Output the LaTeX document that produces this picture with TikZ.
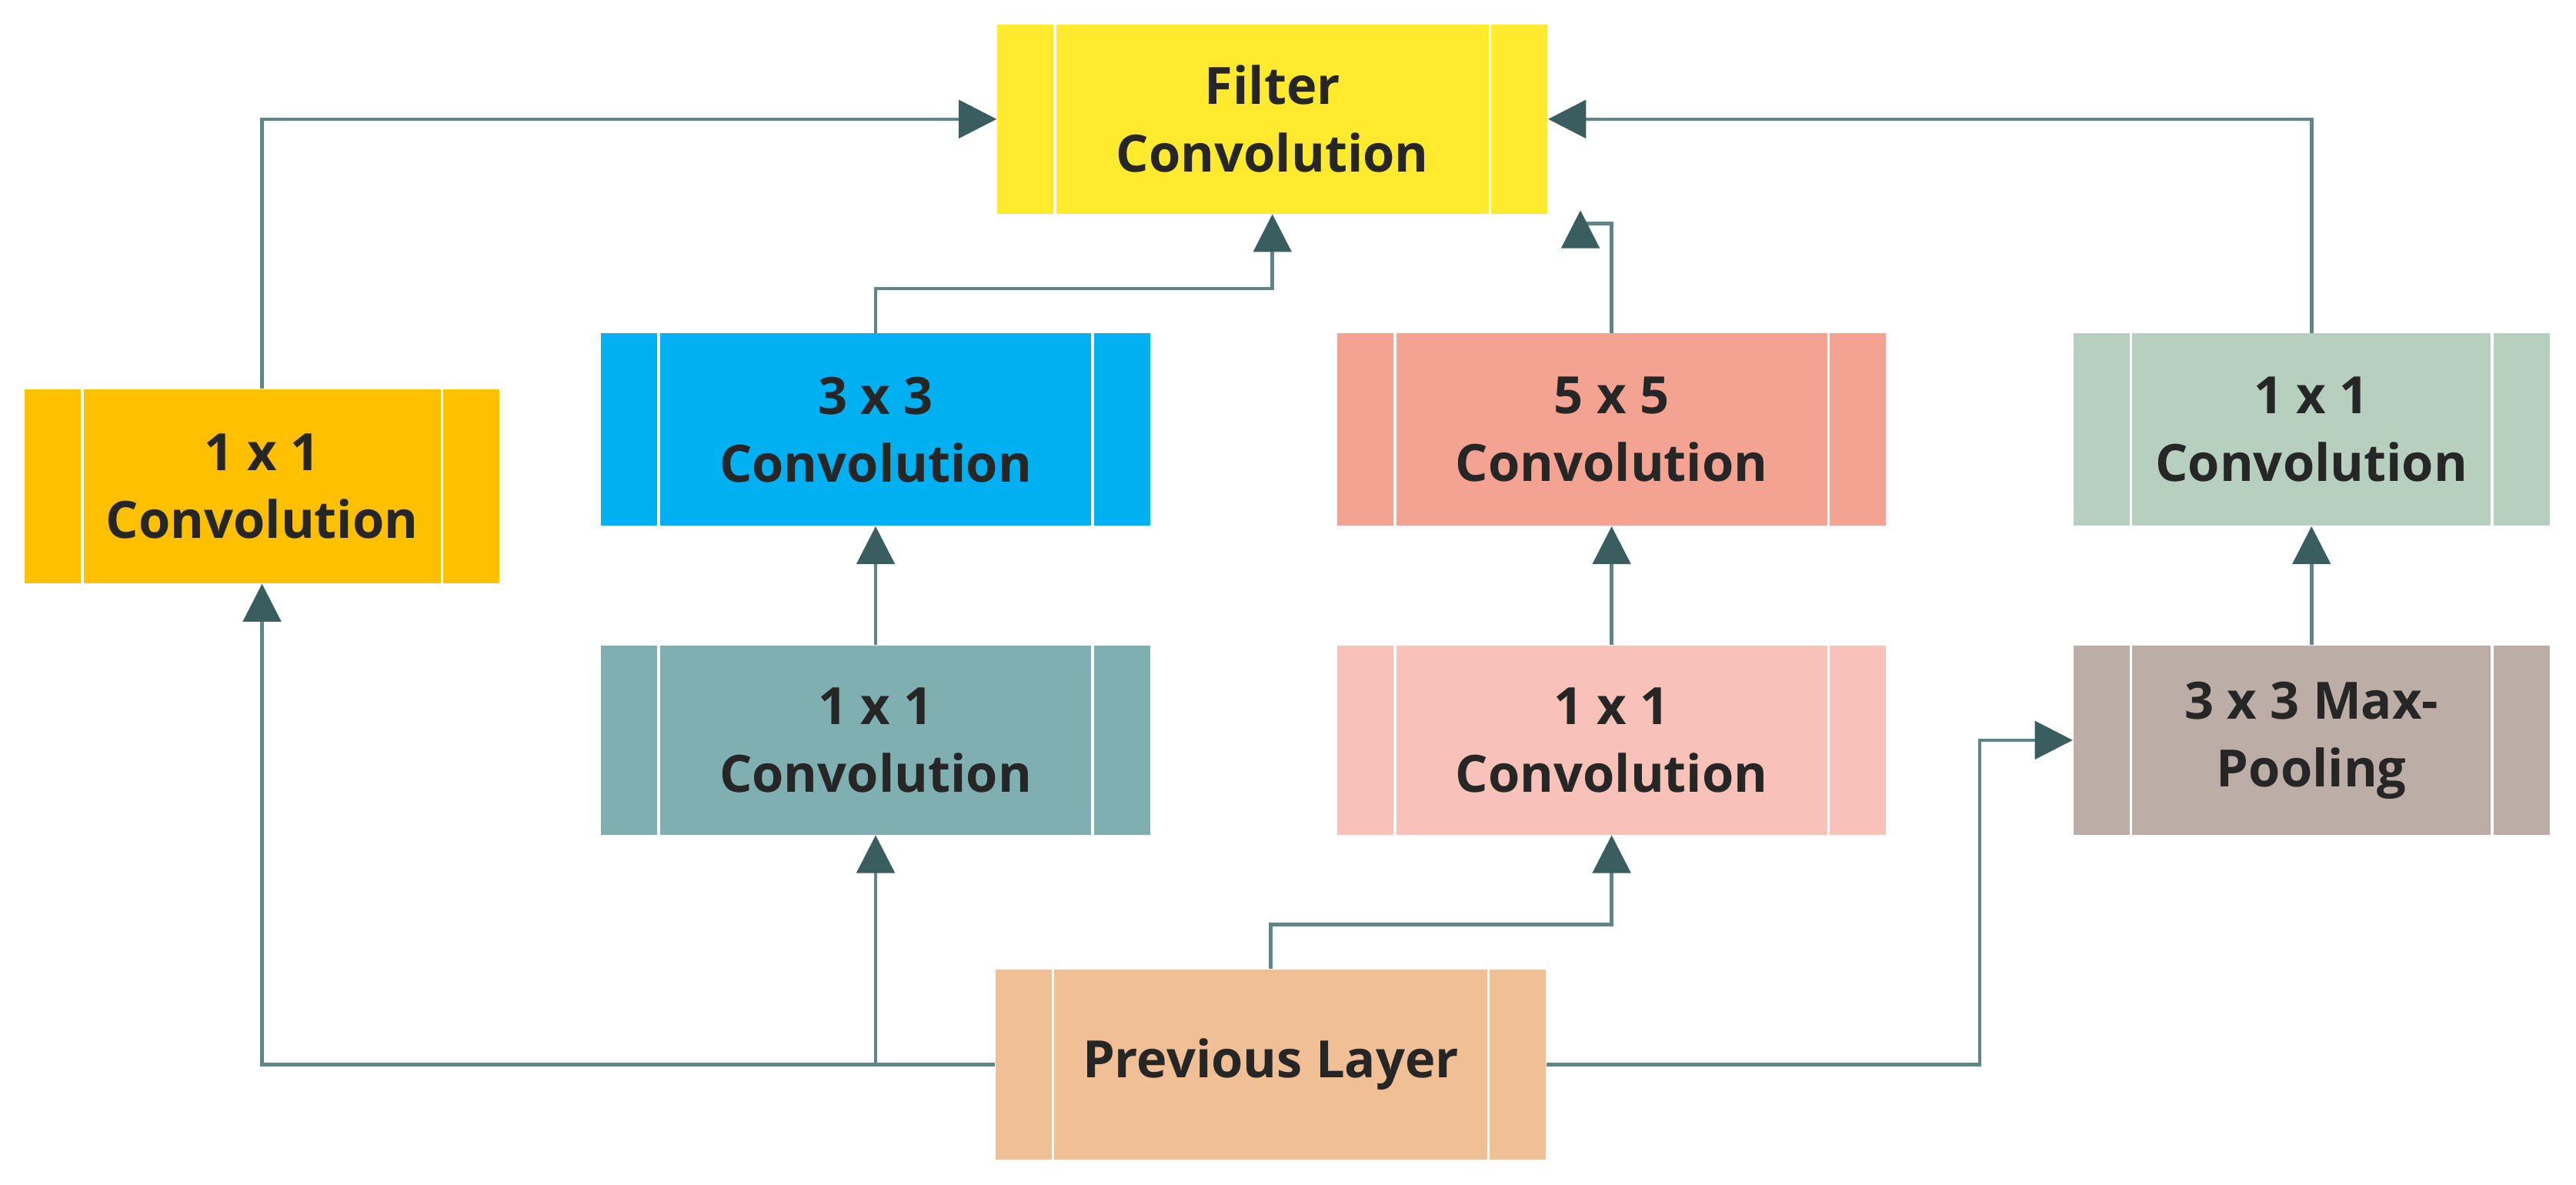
\documentclass[tikz,border=0pt]{standalone}
\usepackage{fontspec}
\setmainfont{Open Sans}
\usetikzlibrary{arrows.meta}
\definecolor{ln}{HTML}{5E8587}
\definecolor{ah}{HTML}{3A5E60}
\begin{document}
\begin{tikzpicture}[x=0.02135cm,y=-0.02135cm,
 box/.style={draw=none,inner sep=0pt,align=center,font=\fontsize{19}{25}\selectfont\bfseries,text=black!85},
 con/.style={draw=ln,line width=1.3pt,-{Triangle[length=14pt,width=14pt,color=ah]}}]
\useasboundingbox (0,0) rectangle (1568,721);
\newcommand\mybox[7]{% name x1 y1 x2 y2 color text
 \fill[#6] (#2,#3) rectangle (#4,#5);
 \draw[white,line width=1pt] ({#2+35},#3) -- ({#2+35},#5) ({#4-35},#3) -- ({#4-35},#5);
 \node[box] (#1) at ({(#2+#4)/2},{(#3+#5)/2}) [minimum width={(#4-#2)*0.02135cm},minimum height={(#5-#3)*0.02135cm}] {#7};}
\definecolor{c1}{HTML}{FFEA2E}\definecolor{c2}{HTML}{FFC000}\definecolor{c3}{HTML}{00B0F0}
\definecolor{c4}{HTML}{F4A393}\definecolor{c5}{HTML}{B6CFBE}\definecolor{c6}{HTML}{7FAFB0}
\definecolor{c7}{HTML}{F8C2B8}\definecolor{c8}{HTML}{BCAEA6}\definecolor{c9}{HTML}{F0BF95}
\mybox{filt}{607}{15}{942}{130}{c1}{Filter\\Convolution}
\mybox{y1}{15}{237}{304}{355}{c2}{1 x 1\\Convolution}
\mybox{b3}{366}{203}{700}{320}{c3}{3 x 3\\Convolution}
\mybox{s5}{814}{203}{1148}{320}{c4}{5 x 5\\Convolution}
\mybox{g1}{1262}{203}{1552}{320}{c5}{1 x 1\\Convolution}
\mybox{t1}{366}{393}{700}{508}{c6}{1 x 1\\Convolution}
\mybox{p1}{814}{393}{1148}{508}{c7}{1 x 1\\Convolution}
\mybox{mp}{1262}{393}{1552}{508}{c8}{3 x 3 Max-\\Pooling}
\mybox{prev}{606}{590}{941}{706}{c9}{Previous Layer}
\coordinate (k5) at (962,136);
\draw[con] (y1.north) |- (filt.west);
\draw[con] (g1.north) |- (filt.east);
\draw[con] (b3.north) -- ++(0,-27) -| (filt.south);
\draw[con] (s5.north) |- (k5) -- (962,128);
\draw[con] (prev.west) -| (y1.south);
\draw[con] (533,648) -- (t1.south);
\draw[con] (prev.north) -- ++(0,-27) -| (p1.south);
\draw[con] (prev.east) -- (1205,648) |- (mp.west);
\draw[con] (t1.north) -- (b3.south);
\draw[con] (p1.north) -- (s5.south);
\draw[con] (mp.north) -- (g1.south);
\end{tikzpicture}
\end{document}
